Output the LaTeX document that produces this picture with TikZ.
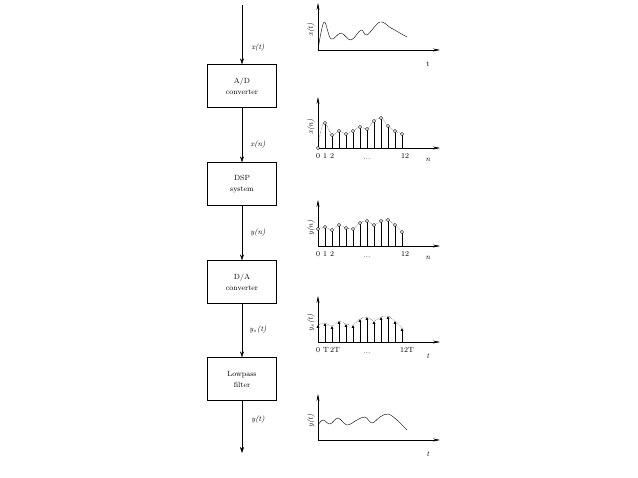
\documentclass[tikz,border=0pt]{standalone}
\usetikzlibrary{arrows.meta}
\begin{document}
\begin{tikzpicture}[x=1pt,y=-1pt,font=\fontsize{7.5}{9}\selectfont,
  blk/.style={draw,minimum width=69pt,minimum height=43pt,align=center,inner sep=1pt},
  sig/.style={-{Stealth[length=6pt,width=4pt]}},
  ax/.style={-{Stealth[length=7pt,width=3pt]},line width=0.5pt},
  lbl/.style={font=\fontsize{7.5}{9}\selectfont\itshape}]
\useasboundingbox (0,0) rectangle (638,478);
\coordinate (top) at (242,5);
\node[blk] (ad) at (242,86) {A/D\\[2pt]converter};
\node[blk] (dsp) at (242,184) {DSP\\[2pt]system};
\node[blk] (da) at (242,282) {D/A\\[2pt]converter};
\node[blk] (lp) at (242,379) {Lowpass\\[2pt]filter};
\coordinate (bot) at (242,453);
\draw[sig] (top) -- (ad);
\draw[sig] (ad) -- (dsp);
\draw[sig] (dsp) -- (da);
\draw[sig] (da) -- (lp);
\draw[sig] (lp) -- (bot);
\node[lbl] (l1) at (258,48) {x(t)};
\node[lbl] (l2) at (258,145) {x(n)};
\node[lbl] (l3) at (258,233) {y(n)};
\node[lbl] (l4) at (258,330) {y$_s$(t)};
\node[lbl] (l5) at (258,420) {y(t)};
% plot 1
\draw[ax] (318,50) -- (318,3);
\draw[ax] (318,50) -- (440,50);
\node[rotate=90,lbl] at (311,30) {x(t)};
\node at (428,64) {t};
\draw plot[smooth,tension=0.6] coordinates {(318,50)(324,22)(331,39)(341,33)(351,40)(361,30)(367,35)(380,22)(391,28)(407,37)};
% plot 2
\draw[ax] (318,148) -- (318,97);
\draw[ax] (318,148) -- (440,148);
\node[rotate=90,lbl] at (311,127) {x(n)};
\draw[densely dotted] plot[smooth] coordinates {(318,148)(321,130)(325,123)(332,135)(339,131)(346,134)(353,131)(360,127)(367,129)(374,121)(381,118)(388,126)(395,131)(402,134)};
\foreach \i/\h in {1/25,2/13,3/17,4/14,5/17,6/21,7/19,8/27,9/30,10/22,11/17,12/14}
  {\draw (318+7*\i,148) -- (318+7*\i,148-\h); \draw[fill=white] (318+7*\i,148-\h) circle (1.6);}
\draw[fill=white] (318,148) circle (1.6);
\node at (318,156) {0};\node at (325,156) {1};\node at (332,156) {2};\node at (367,159) {...};\node at (405,156) {12};
\node[lbl] at (428,160) {n};
% plot 3
\draw[ax] (318,246) -- (318,200);
\draw[ax] (318,246) -- (440,246);
\node[rotate=90,lbl] at (311,228) {y(n)};
\draw[densely dotted] plot[smooth] coordinates {(318,229)(325,227)(332,230)(339,225)(346,228)(353,229)(360,223)(367,221)(374,225)(381,221)(388,220)(395,225)(402,232)};
\foreach \i/\h in {0/17,1/19,2/16,3/21,4/18,5/17,6/23,7/25,8/21,9/25,10/26,11/21,12/14}
  {\draw (318+7*\i,246) -- (318+7*\i,246-\h); \draw[fill=white] (318+7*\i,246-\h) circle (1.6);}
\node at (318,254) {0};\node at (325,254) {1};\node at (332,254) {2};\node at (367,257) {...};\node at (405,254) {12};
\node[lbl] at (428,258) {n};
% plot 4
\draw[ax] (318,342) -- (318,296);
\draw[ax] (318,342) -- (440,342);
\node[rotate=90,lbl] at (311,323) {y$_s$(t)};
\draw[densely dotted] plot[smooth] coordinates {(318,325)(325,323)(332,326)(339,321)(346,324)(353,325)(360,319)(367,317)(374,321)(381,317)(388,316)(395,321)(402,328)};
\foreach \i/\h in {0/17,1/19,2/16,3/21,4/18,5/17,6/23,7/25,8/21,9/25,10/26,11/21,12/14}
  {\draw[-{Latex[length=3pt,width=3pt]}] (318+7*\i,342) -- (318+7*\i,342-\h);}
\node at (318,350) {0};\node at (326,350) {T};\node at (335,350) {2T};\node at (367,353) {...};\node at (407,350) {12T};
\node[lbl] at (428,356) {t};
% plot 5
\draw[ax] (318,440) -- (318,394);
\draw[ax] (318,440) -- (440,440);
\node[rotate=90,lbl] at (311,421) {y(t)};
\draw plot[smooth,tension=0.6] coordinates {(318,425)(323,420)(330,424)(338,418)(347,425)(357,420)(365,417)(372,423)(380,417)(388,414)(397,420)(407,430)};
\node[lbl] at (428,454) {t};
\end{tikzpicture}
\end{document}
